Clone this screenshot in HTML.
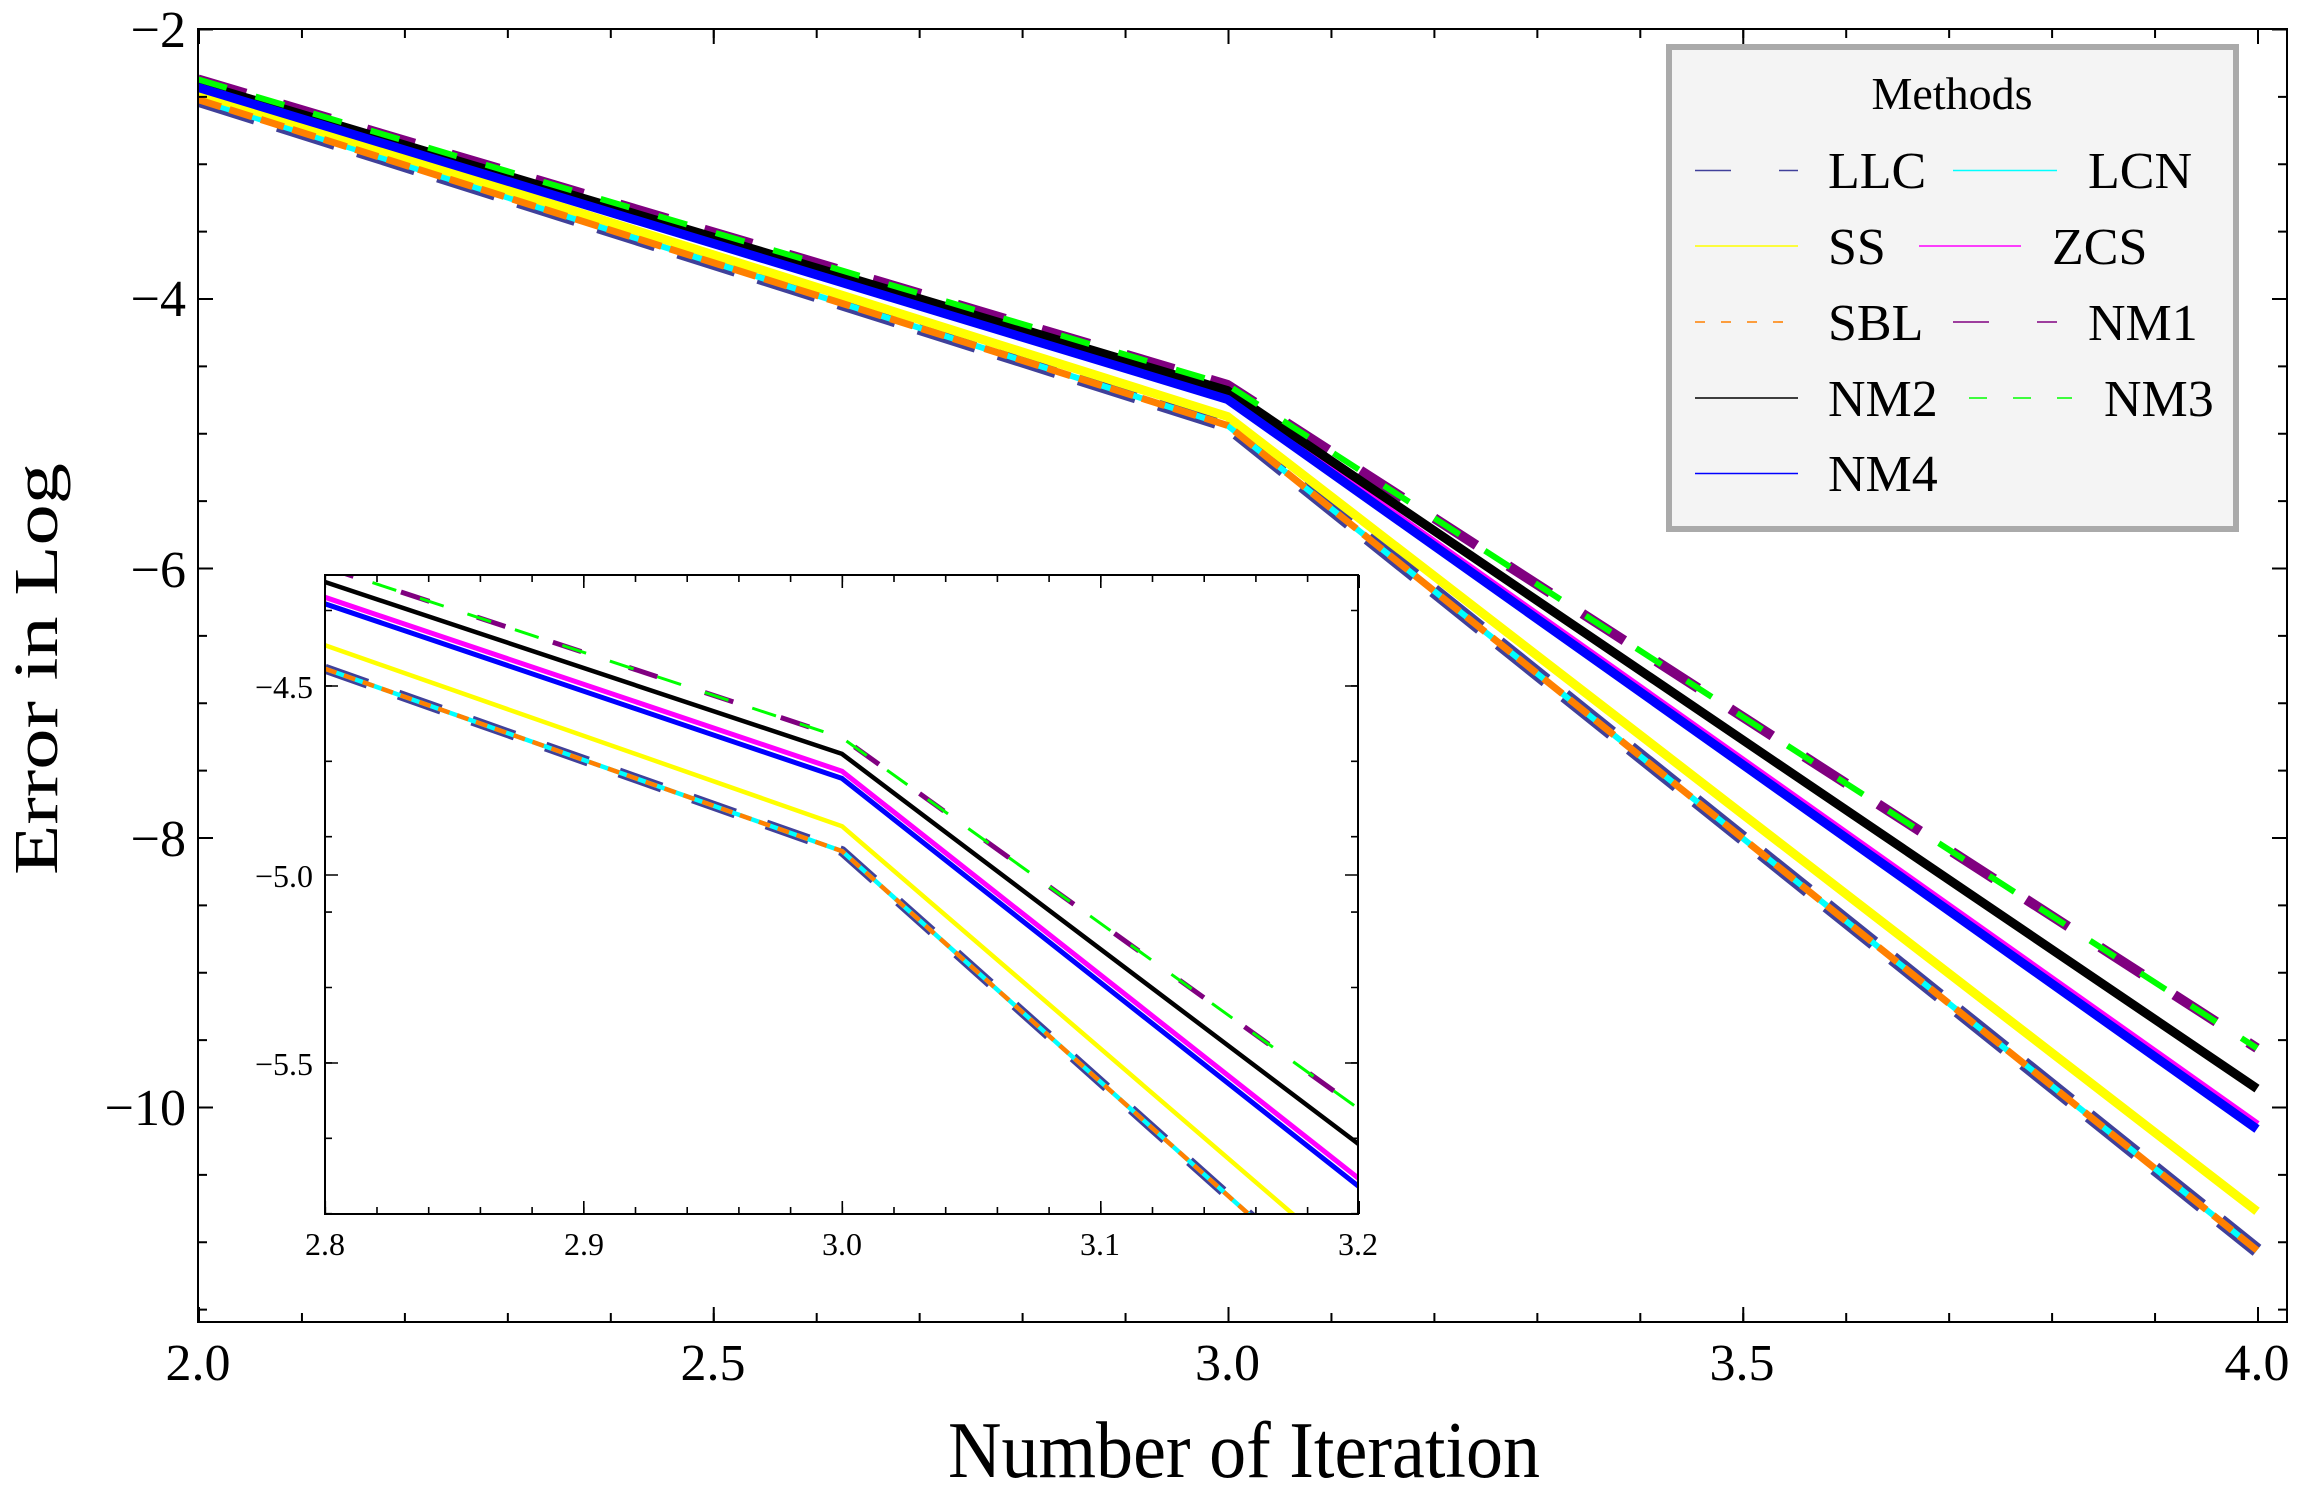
<!DOCTYPE html>
<html><head><meta charset="utf-8"><style>
html,body{margin:0;padding:0;background:#fff;}
svg{display:block;}
text{font-family:"Liberation Serif",serif;fill:#000;}
</style></head><body>
<svg width="2305" height="1498" viewBox="0 0 2305 1498" xmlns="http://www.w3.org/2000/svg">
<defs>
<clipPath id="cm"><rect x="198" y="29" width="2089" height="1293"/></clipPath>
<clipPath id="ci"><rect x="325" y="575" width="1033" height="639"/></clipPath>
</defs>
<rect width="2305" height="1498" fill="#fff"/>
<!-- main series -->
<g clip-path="url(#cm)" fill="none" stroke-linejoin="round">
<polyline points="198,99.6 1227.5,425.4 2257,1250.3" stroke="#40409a" stroke-width="14" stroke-dasharray="60 24"/>
<polyline points="198,99.6 1227.5,425.4 2257,1250.3" stroke="#00ffff" stroke-width="6"/>
<polyline points="198,92.8 1227.5,416.5 2257,1211.3" stroke="#ffff00" stroke-width="9"/>
<polyline points="198,86.1 1227.5,396.8 2257,1125" stroke="#ff00ff" stroke-width="9"/>
<polyline points="198,99.6 1227.5,425.4 2257,1250.3" stroke="#ff8000" stroke-width="7" stroke-dasharray="24 9"/>
<polyline points="198,79.4 1227.5,384.9 2257,1048.2" stroke="#800080" stroke-width="10" stroke-dasharray="50 38"/>
<polyline points="198,83.4 1227.5,390.6 2257,1088.6" stroke="#000" stroke-width="9"/>
<polyline points="198,79.4 1227.5,384.9 2257,1048.2" stroke="#00ff00" stroke-width="6" stroke-dasharray="30 30"/>
<polyline points="198,87.4 1227.5,399.4 2257,1129.1" stroke="#0000ff" stroke-width="9"/>
</g>
<!-- main frame -->
<rect x="198" y="29" width="2089" height="1293" fill="none" stroke="#000" stroke-width="2"/>
<!-- main ticks -->
<g stroke="#000" fill="none">
<path d="M198 1317.5H2290" stroke-width="9" stroke-dasharray="2 100.95"/>
<path d="M198 1314.5H2290" stroke-width="15" stroke-dasharray="2 512.75"/>
<path d="M198 33.5H2290" stroke-width="9" stroke-dasharray="2 100.95"/>
<path d="M198 36.5H2290" stroke-width="15" stroke-dasharray="2 512.75"/>
<path d="M202.5 28.5V1322" stroke-width="9" stroke-dasharray="2 65.375"/>
<path d="M205.5 28.5V1322" stroke-width="15" stroke-dasharray="2 267.5"/>
<path d="M2282.5 28.5V1322" stroke-width="9" stroke-dasharray="2 65.375"/>
<path d="M2279.5 28.5V1322" stroke-width="15" stroke-dasharray="2 267.5"/>
</g>
<!-- main tick labels -->
<g font-size="52" text-anchor="middle">
<text x="198" y="1380">2.0</text>
<text x="713" y="1380">2.5</text>
<text x="1227.5" y="1380">3.0</text>
<text x="1742" y="1380">3.5</text>
<text x="2257" y="1380">4.0</text>
</g>
<g font-size="52" text-anchor="end">
<text x="186" y="47">−2</text>
<text x="186" y="316">−4</text>
<text x="186" y="587">−6</text>
<text x="186" y="856">−8</text>
<text x="186" y="1125">−10</text>
</g>
<text x="1244" y="1477" font-size="80" text-anchor="middle" textLength="592" lengthAdjust="spacingAndGlyphs">Number of Iteration</text>
<text transform="translate(57,669) rotate(-90)" font-size="62" text-anchor="middle" textLength="412" lengthAdjust="spacingAndGlyphs">Error in Log</text>

<!-- legend -->
<rect x="1669" y="47" width="567" height="482" fill="#f4f4f4" stroke="#aaaaaa" stroke-width="6"/>
<text x="1952" y="109" font-size="46" text-anchor="middle">Methods</text>
<g fill="none" stroke-width="1.6">
<line x1="1695" y1="170.5" x2="1798" y2="170.5" stroke="#40409a" stroke-dasharray="36 48"/>
<line x1="1953" y1="170.5" x2="2057" y2="170.5" stroke="#00ffff"/>
<line x1="1695" y1="246" x2="1798" y2="246" stroke="#ffff00"/>
<line x1="1919" y1="246" x2="2021" y2="246" stroke="#ff00ff"/>
<line x1="1695" y1="322" x2="1784" y2="322" stroke="#ff8000" stroke-dasharray="10 16"/>
<line x1="1953" y1="322" x2="2057" y2="322" stroke="#800080" stroke-dasharray="36 48"/>
<line x1="1695" y1="398" x2="1798" y2="398" stroke="#000"/>
<line x1="1969" y1="398" x2="2072" y2="398" stroke="#00ff00" stroke-dasharray="18 26"/>
<line x1="1695" y1="473.5" x2="1798" y2="473.5" stroke="#0000ff"/>
</g>
<g font-size="52">
<text x="1828" y="188">LLC</text>
<text x="2088" y="188">LCN</text>
<text x="1828" y="264">SS</text>
<text x="2052" y="264">ZCS</text>
<text x="1828" y="340">SBL</text>
<text x="2088" y="340">NM1</text>
<text x="1828" y="416">NM2</text>
<text x="2104" y="416">NM3</text>
<text x="1828" y="491">NM4</text>
</g>

<!-- inset -->
<rect x="325" y="575" width="1033" height="639" fill="#fff"/>
<g clip-path="url(#ci)" fill="none" stroke-linejoin="round">
<polyline points="325,668.7 842,851.1 1359,1312.6" stroke="#40409a" stroke-width="10" stroke-dasharray="45 33"/>
<polyline points="325,668.7 842,851.1 1359,1312.6" stroke="#00ffff" stroke-width="4.5"/>
<polyline points="325,645.3 842,826.2 1359,1271" stroke="#ffff00" stroke-width="4.5"/>
<polyline points="325,597.3 842,771.2 1359,1178.7" stroke="#ff00ff" stroke-width="5"/>
<polyline points="325,668.7 842,851.1 1359,1312.6" stroke="#ff8000" stroke-width="4.5" stroke-dasharray="12 8"/>
<polyline points="325,566.9 842,737.8 1359,1109" stroke="#800080" stroke-width="5" stroke-dasharray="30 50"/>
<polyline points="325,582 842,753.9 1359,1144.4" stroke="#000" stroke-width="4.5"/>
<polyline points="325,566.9 842,737.8 1359,1109" stroke="#00ff00" stroke-width="3" stroke-dasharray="25 25"/>
<polyline points="325,603.8 842,778.4 1359,1186.7" stroke="#0000ff" stroke-width="5"/>
</g>
<rect x="325" y="575" width="1033" height="639" fill="none" stroke="#000" stroke-width="2"/>
<g stroke="#000" fill="none">
<path d="M324.5 1210.5H1360" stroke-width="7" stroke-dasharray="1.6 50.1"/>
<path d="M324.5 1207.5H1360" stroke-width="13" stroke-dasharray="1.6 256.9"/>
<path d="M324.5 578.5H1360" stroke-width="7" stroke-dasharray="1.6 50.1"/>
<path d="M324.5 581.5H1360" stroke-width="13" stroke-dasharray="1.6 256.9"/>
<path d="M328.5 1214.5V574" stroke-width="7" stroke-dasharray="1.6 73.8"/>
<path d="M1354.5 1214.5V574" stroke-width="7" stroke-dasharray="1.6 73.8"/>
<path d="M325 686H338M325 875H338M325 1063H338M1345 686H1358M1345 875H1358M1345 1063H1358" stroke-width="1.6"/>
</g>
<g font-size="32" text-anchor="middle">
<text x="325" y="1255">2.8</text>
<text x="584" y="1255">2.9</text>
<text x="842" y="1255">3.0</text>
<text x="1100" y="1255">3.1</text>
<text x="1358" y="1255">3.2</text>
</g>
<g font-size="32" text-anchor="end">
<text x="313" y="698">−4.5</text>
<text x="313" y="887">−5.0</text>
<text x="313" y="1075">−5.5</text>
</g>
</svg>
</body></html>
